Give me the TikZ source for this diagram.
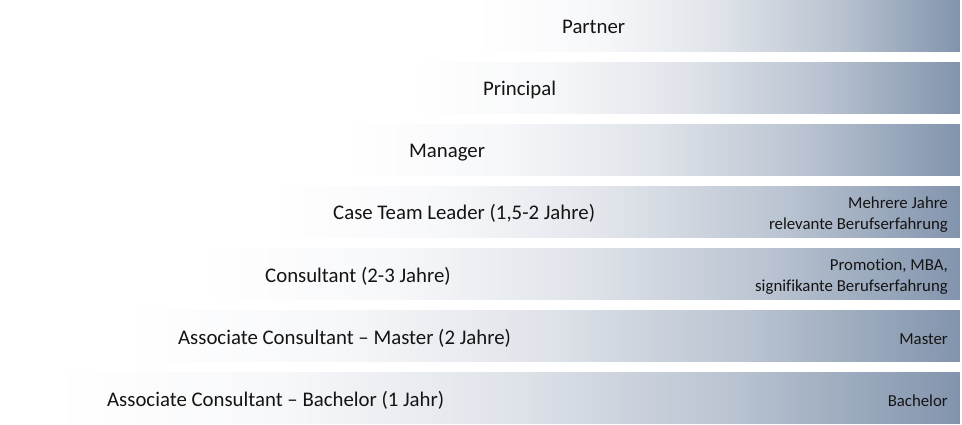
\documentclass[tikz,border=0pt]{standalone}
\usepackage{fontspec}
\setmainfont{Carlito}[Ligatures=NoCommon]
\usepackage{tikz}
\usetikzlibrary{positioning}

\definecolor{textgrey}{RGB}{20,20,20}
\definecolor{fadeA}{RGB}{247,248,250}
\definecolor{fadeB}{RGB}{224,228,234}
\definecolor{fadeC}{RGB}{185,195,209}
\definecolor{fadeD}{RGB}{130,148,173}
\pgfdeclarehorizontalshading{barfade}{100bp}{color(0bp)=(white); color(25bp)=(white);
  color(37.5bp)=(fadeA); color(50bp)=(fadeB); color(62.5bp)=(fadeC);
  color(75bp)=(fadeD); color(100bp)=(fadeD)}

\tikzset{
  stufe/.style={rectangle, inner sep=0pt, minimum height=51pt, shading=barfade, anchor=north east},
  rang/.style={font=\fontsize{20.8}{24}\selectfont, text=textgrey, anchor=base west, inner sep=0pt},
  weg/.style={font=\fontsize{16.8}{21}\selectfont, text=textgrey, align=right, anchor=east, inner sep=0pt, yshift=-3pt}
}

\begin{document}
\begin{tikzpicture}[x=1pt,y=-1pt]
            \useasboundingbox (0,0) rectangle (962,425);
            % Stufen der Karriereleiter
            \foreach \i/\x in {1/475,2/407,3/340,4/267,5/200,6/120,7/52}
              \node[stufe, minimum width={(960-\x)*1pt}] (bar\i) at (960,{62*(\i-1)}) {};
            % Positionen
            \node[rang] (partner) at (562,34) {Partner};
            \node[rang] (principal) at (483,96) {Principal};
            \node[rang] (manager) at (409,158) {Manager};
            \node[rang] (ctl) at (333,220) {Case Team Leader (1,5-2 Jahre)};
            \node[rang] (consultant) at (265,282) {Consultant (2-3 Jahre)};
            \node[rang] (acmaster) at (178,344) {Associate Consultant -- Master (2 Jahre)};
            \node[rang] (acbachelor) at (107,406) {Associate Consultant -- Bachelor (1 Jahr)};
            % Einstieg
            \node[weg] (ctlweg) at ([xshift=-12pt]bar4.east) {Mehrere Jahre\\relevante Berufserfahrung};
            \node[weg] (consweg) at ([xshift=-12pt]bar5.east) {Promotion, MBA,\\signifikante Berufserfahrung};
            \node[weg] (masterweg) at ([xshift=-12pt]bar6.east) {Master};
            \node[weg] (bachelorweg) at ([xshift=-12pt]bar7.east) {Bachelor};
\end{tikzpicture}
\end{document}
